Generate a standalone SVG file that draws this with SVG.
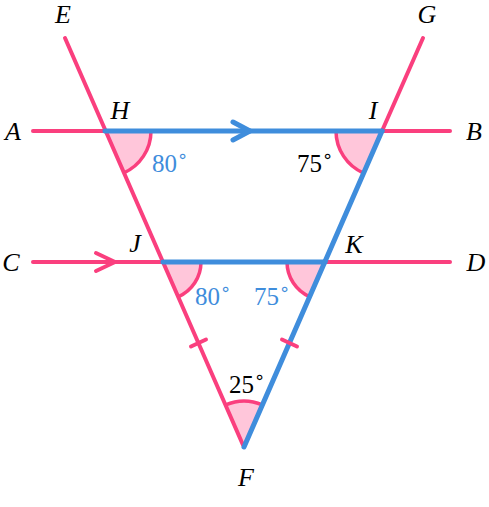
<svg xmlns="http://www.w3.org/2000/svg" width="489" height="507" viewBox="0 0 489 507">
<style>
.pk{stroke:#fa3f7e;stroke-width:4;fill:none;stroke-linecap:round;stroke-linejoin:round}
.bl{stroke:#3f8ddc;stroke-width:5;fill:none;stroke-linecap:round;stroke-linejoin:round}
.pie{fill:#ffc6da;stroke:none}
.arc{stroke:#fa3f7e;stroke-width:3.5;fill:none}
.lbl{font-family:"Liberation Serif",serif;font-style:italic;font-size:26px;fill:#000;text-anchor:middle}
.ang{font-family:"Liberation Serif",serif;font-size:25px}
.deg{font-family:"DejaVu Sans",sans-serif;font-size:18px}
</style>
<rect width="489" height="507" fill="#fff"/>
<g id="angles">
<path class="pie" d="M105,131 L151,131 A46,46 0 0,1 123.4,173.1 Z"/>
<path class="arc" d="M151,131 A46,46 0 0,1 123.4,173.1"/>
<path class="pie" d="M382,131 L336,131 A46,46 0 0,0 363.6,173.1 Z"/>
<path class="arc" d="M336,131 A46,46 0 0,0 363.6,173.1"/>
<path class="pie" d="M163,262 L201,262 A38,38 0 0,1 178.2,296.8 Z"/>
<path class="arc" d="M201,262 A38,38 0 0,1 178.2,296.8"/>
<path class="pie" d="M325,262 L287,262 A38,38 0 0,0 309.8,296.8 Z"/>
<path class="arc" d="M287,262 A38,38 0 0,0 309.8,296.8"/>
<path class="pie" d="M244,447 L225.6,404.9 A46,46 0 0,1 262.4,404.9 Z"/>
<path class="arc" d="M225.6,404.9 A46,46 0 0,1 262.4,404.9"/>
</g>
<g id="connectors">
<line class="pk" x1="33" y1="131" x2="450" y2="131"/>
<line class="pk" x1="33" y1="262" x2="450" y2="262"/>
<line class="pk" x1="65" y1="38" x2="243" y2="445"/>
<line class="pk" x1="423" y1="38" x2="382" y2="131"/>
<line class="bl" x1="105" y1="131" x2="382" y2="131"/>
<line class="bl" x1="163" y1="262" x2="325" y2="262"/>
<line class="bl" x1="382" y1="131" x2="244" y2="447"/>
<polyline class="bl" points="233,122 250,131 233,140"/>
<polyline class="pk" points="96,253 115,262 96,271"/>
<line class="pk" x1="191" y1="346.5" x2="206" y2="339.5"/>
<line class="pk" x1="282" y1="339.5" x2="297" y2="346.5"/>
</g>
<g id="E"><text class="lbl" x="63" y="23">E</text></g>
<g id="G"><text class="lbl" x="427" y="23">G</text></g>
<g id="A"><text class="lbl" x="13" y="140">A</text></g>
<g id="B"><text class="lbl" x="474" y="140">B</text></g>
<g id="C"><text class="lbl" x="11" y="271">C</text></g>
<g id="D"><text class="lbl" x="476" y="271">D</text></g>
<g id="H"><text class="lbl" x="120" y="119">H</text></g>
<g id="I"><text class="lbl" x="373" y="119">I</text></g>
<g id="J"><text class="lbl" x="135" y="252">J</text></g>
<g id="K"><text class="lbl" x="354" y="253">K</text></g>
<g id="F"><text class="lbl" x="246" y="486">F</text></g>
<g id="labels">
<text class="ang" x="152" y="172" fill="#3f8ddc">80<tspan class="deg" dy="-10">∘</tspan></text>
<text class="ang" x="297" y="172" fill="#000">75<tspan class="deg" dy="-10">∘</tspan></text>
<text class="ang" x="195" y="305" fill="#3f8ddc">80<tspan class="deg" dy="-10">∘</tspan></text>
<text class="ang" x="254" y="305" fill="#3f8ddc">75<tspan class="deg" dy="-10">∘</tspan></text>
<text class="ang" x="229" y="393" fill="#000">25<tspan class="deg" dy="-10">∘</tspan></text>
</g>
</svg>
